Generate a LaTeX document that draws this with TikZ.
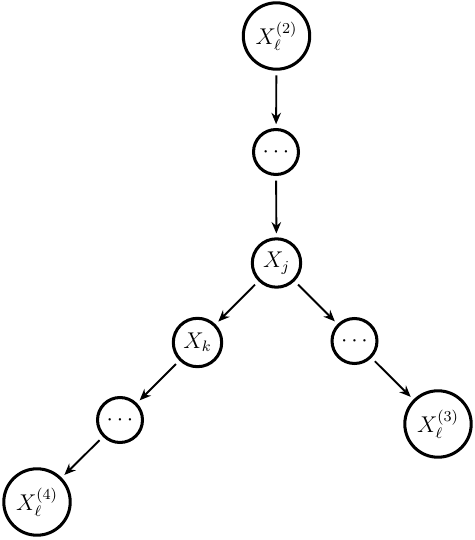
\documentclass[tikz,border=0pt]{standalone}
\usetikzlibrary{arrows.meta}

\begin{document}
\begin{tikzpicture}[thick, x=0.527pt, y=-0.527pt, >={Stealth[length=6pt, width=5pt]},
	var/.style={circle, draw, ultra thick, minimum size=25.5pt, inner sep=1pt, font=\fontsize{11.5}{13}\selectfont},
	dotvar/.style={var, minimum size=23.7pt},
	bigvar/.style={var, minimum size=35pt},
	edge/.style={->, line width=1pt, shorten <=2.5pt, shorten >=2pt}]
\useasboundingbox (0, 0) rectangle (474, 540);

% main chain
\node[bigvar] at (276.5, 36) (ltwo) {$X_\ell^{(2)}$};
\node[dotvar] at (276, 152) (dotsa) {$\cdots$};
\node[var] at (276.5, 263) (xj) {$X_j$};

% left branch
\node[var] at (197.5, 342.5) (xk) {$X_k$};
\node[dotvar] at (120, 420) (dotsb) {$\cdots$};
\node[bigvar] at (37, 502) (lfour) {$X_\ell^{(4)}$};

% right branch
\node[dotvar] at (354.5, 341) (dotsc) {$\cdots$};
\node[bigvar] at (438, 424) (lthree) {$X_\ell^{(3)}$};

\draw[edge] (ltwo) -- (dotsa);
\draw[edge] (dotsa) -- (xj);
\draw[edge] (xj) -- (xk);
\draw[edge] (xk) -- (dotsb);
\draw[edge] (dotsb) -- (lfour);
\draw[edge] (xj) -- (dotsc);
\draw[edge] (dotsc) -- (lthree);

\end{tikzpicture}
\end{document}
